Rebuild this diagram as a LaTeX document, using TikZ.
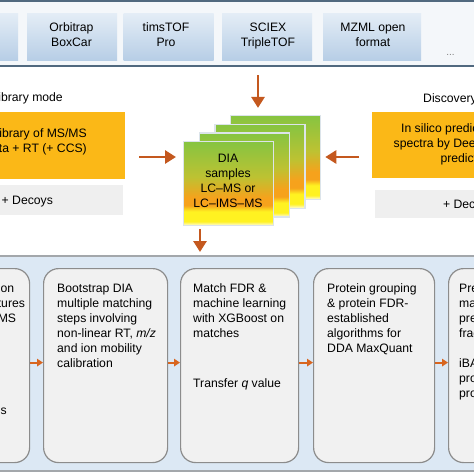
\documentclass[tikz,border=0pt]{standalone}
\usepackage{fontspec}
\setmainfont{Liberation Sans}
\usetikzlibrary{arrows.meta,calc}
\definecolor{arrc}{HTML}{C4581E}
\definecolor{sarrc}{HTML}{D8651F}
\definecolor{orng}{HTML}{FBB817}
\definecolor{grayf}{HTML}{EFEFEF}
\definecolor{bandb}{HTML}{DCE8F4}
\definecolor{bandln}{HTML}{A3A7AB}
\definecolor{topln}{HTML}{51697F}
\definecolor{topbg}{HTML}{F4F7FA}
\definecolor{ibt}{HTML}{E4EDF6}
\definecolor{ibb}{HTML}{B7CEE6}
\definecolor{rbox}{HTML}{F1F1F1}
\definecolor{rboxln}{HTML}{8C8C8C}
\definecolor{dpale}{HTML}{FFFCE6}
\definecolor{dyel}{HTML}{FFF221}
\definecolor{dorg}{HTML}{F6A21C}
\definecolor{dmid}{HTML}{BDC232}
\definecolor{dgrn}{HTML}{86C441}
\definecolor{cardln}{HTML}{DCE4EA}
\pgfdeclareverticalshading{diashade}{100bp}{color(0bp)=(dpale); color(25bp)=(dpale); color(27.5bp)=(dyel); color(33.5bp)=(dyel); color(37bp)=(dorg); color(41.5bp)=(dorg); color(54bp)=(dmid); color(75bp)=(dgrn); color(100bp)=(dgrn)}
\newcommand\fsz{\fontsize{12.2}{15}\selectfont}
\tikzset{
  inst/.style={rectangle, top color=ibt, bottom color=ibb, draw=none, minimum width=90pt, minimum height=47pt, inner sep=0pt, anchor=north west},
  txt/.style={inner sep=0pt, font=\fsz},
  txtl/.style={inner sep=0pt, font=\fsz, align=left, anchor=north west},
  orbox/.style={rectangle, fill=orng, draw=none, inner sep=0pt, anchor=north west},
  grbox/.style={rectangle, fill=grayf, draw=none, inner sep=0pt, anchor=north west},
  card/.style={rectangle, shading=diashade, draw=cardln, line width=1.2pt, minimum width=90pt, minimum height=84pt, inner sep=0pt, anchor=north west},
  rbx/.style={rectangle, rounded corners=15pt, draw=rboxln, line width=1.2pt, fill=rbox, minimum height=194pt, inner sep=0pt, anchor=north west},
  bigarr/.style={draw=arrc, line width=2.8pt, -{Triangle[length=11pt,width=13pt]}},
  sarr/.style={draw=sarrc, line width=2pt, -{Triangle[length=6pt,width=7.5pt]}},
}
\begin{document}
\begin{tikzpicture}[x=1pt,y=-1pt]
\useasboundingbox (0,0) rectangle (474,474);
\clip (0,0) rectangle (474,474);
\fill[white] (0,0) rectangle (474,474);
% top band
\fill[topbg] (-5,1) rectangle (480,66);
\draw[topln, line width=2pt] (-5,1) -- (480,1);
\draw[topln, line width=2pt] (-5,66) -- (480,66);
\node[inst] (i0) at (-72,13) {};
\node[inst] (i1) at (27,13) {};
\node[inst] (i2) at (123.5,13) {};
\node[inst] (i3) at (222,13) {};
\node[inst, minimum width=98pt] (i4) at (323,13) {};
\node[txt, align=center, anchor=north] (l1) at (71.5,22.5) {Orbitrap\\BoxCar};
\node[txt, align=center, anchor=north] (l2) at (166,22.5) {timsTOF\\Pro};
\node[txt, align=center, anchor=north] (l3) at (268,22.5) {SCIEX\\TripleTOF};
\node[txt, align=center, anchor=north] (l4) at (373,22.5) {MZML open\\format};
\node[inner sep=0pt, font=\fontsize{10}{10}\selectfont, text=gray, anchor=base] (dots) at (450.5,55) {...};
% middle section
\node[txt, anchor=base east] (libmode) at (63,101.4) {Library mode};
\node[txt, anchor=base west] (discmode) at (423,102.4) {Discovery mode};
\node[orbox, minimum width=185pt, minimum height=67pt] (lib) at (-60,112) {};
\node[grbox, minimum width=183pt, minimum height=30pt] (libdec) at (-60,185) {};
\node[orbox, minimum width=170pt, minimum height=66pt] (disc) at (372,112) {};
\node[grbox, minimum width=170pt, minimum height=28pt] (discdec) at (375,190) {};
\node[txt, align=right, anchor=north east] (libt) at (87,128.6) {Library of MS/MS\\data + RT (+ CCS)};
\node[txt, anchor=base west] (libdect) at (1.5,204.4) {+ Decoys};
\node[txt, align=center, anchor=north] (disct) at (470,123.6) {In silico predicted MS/MS\\spectra by DeepMass:Prism\\predictions};
\node[txt, anchor=base] (discdect) at (468.6,208.4) {+ Decoys};
% DIA cards
\node[card] (card3) at (230.1,114.9) {};
\node[card] (card2) at (214.4,123.6) {};
\node[card] (card1) at (198.7,132.3) {};
\node[card] (card0) at (183,141) {};
\node[txt, align=center, anchor=north] (diat) at (228,153.6) {DIA\\samples\\LC–MS or\\LC–IMS–MS};
% bottom band
\fill[bandb] (-5,256) rectangle (480,471);
\draw[bandln, line width=2pt] (-5,256) -- (480,256);
\draw[bandln, line width=2pt] (-5,471) -- (480,471);
\node[rbx, minimum width=124pt] (b1) at (-95,268) {};
\node[rbx, minimum width=124pt] (b2) at (43,268) {};
\node[rbx, minimum width=118pt] (b3) at (180,268) {};
\node[rbx, minimum width=121pt] (b4) at (313,268) {};
\node[rbx, minimum width=124pt] (b5) at (448,268) {};
\node[txtl] (t1) at (-81,283.5) {Feature detection\\3D and 4D features\\from LC–IMS–MS};
\node[txtl] (t1b) at (-81,405.6) {Isotope patterns};
\node[txtl] (t2) at (57,283.5) {Bootstrap DIA\\multiple matching\\steps involving\\non-linear RT, \textit{m/z}\\and ion mobility\\calibration};
\node[txtl] (t3) at (193,283.5) {Match FDR \&\\machine learning\\with XGBoost on\\matches};
\node[txtl] (t3b) at (193,378.6) {Transfer \textit{q} value};
\node[txtl] (t4) at (327,283.5) {Protein grouping\\\& protein FDR-\\established\\algorithms for\\DDA MaxQuant};
\node[txtl] (t5) at (459,283.5) {Precursor\\matching of\\precursors and\\fragments};
\node[txtl] (t5b) at (459,358.6) {iBAQ and\\protein\\profiles};
% connectors
\coordinate (src) at (258,75);
\coordinate (ly) at (0,157);
\coordinate (bx) at (200,0);
\coordinate (bt) at (0,256);
\draw[bigarr, shorten >=7pt] (src) -- (src |- card3.north);
\draw[bigarr, shorten <=14pt, shorten >=7pt] (lib.east |- ly) -- (card0.west |- ly);
\draw[bigarr, shorten <=13pt, shorten >=4pt] (disc.west |- ly) -- (card3.east |- ly);
\draw[bigarr, shorten <=3pt, shorten >=4pt] (card0.south -| bx) -- (bx |- bt);
\draw[sarr] ([yshift=3pt]b1.east) -- ([yshift=3pt]b2.west);
\draw[sarr] ([yshift=3pt]b2.east) -- ([yshift=3pt]b3.west);
\draw[sarr] ([yshift=3pt]b3.east) -- ([yshift=3pt]b4.west);
\draw[sarr] ([yshift=3pt]b4.east) -- ([yshift=3pt]b5.west);
\end{tikzpicture}
\end{document}
